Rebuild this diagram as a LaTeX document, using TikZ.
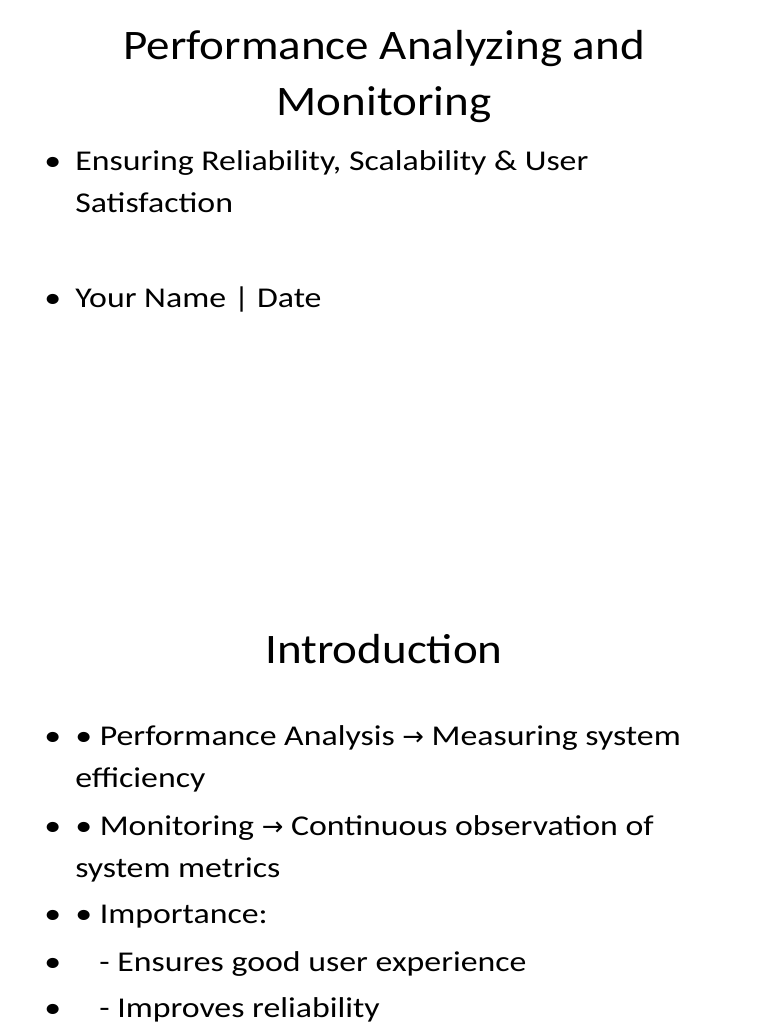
\documentclass[tikz,border=0pt]{standalone}
\usepackage{fontspec}
\setmainfont{Carlito}[FakeStretch=1.18]
\newfontfamily\titlefont{Carlito}[FakeStretch=1.12]
\newfontfamily\symfont{DejaVu Sans}
\newcommand{\arr}{{\symfont\scalebox{0.9}{→}}}

\begin{document}
\begin{tikzpicture}[x=0.75pt,y=-0.75pt]
		\tikzset{title/.style={font=\titlefont\fontsize{31.5}{31.5}\selectfont, anchor=base},
			item/.style={font=\fontsize{21.5}{21.5}\selectfont, anchor=base west, inner sep=0pt},
			dot/.style={font=\fontsize{21.5}{21.5}\selectfont, anchor=base west, inner sep=0pt}}
		\useasboundingbox (0,0) rectangle (768,1024);
		% first slide
		\node [title] (t1) at (384,60) {Performance Analyzing and};
		\node [title] (t2) at (384,115) {Monitoring};
		\node [dot] (b1) at (44,170) {•};
		\node [item] (e1) at (75,170) {Ensuring Reliability, Scalability \& User};
		\node [item] (e2) at (75,212) {Satisfaction};
		\node [dot] (b2) at (44,307) {•};
		\node [item] (e3) at (75,307) {Your Name | Date};
		% second slide
		\node [title] (t3) at (384,663) {Introduction};
		\foreach \y/\n in {745/1,835/2,923/3,971/4,1017/5}
			\node [dot] (d\n) at (44,\y) {•};
		\node [item] (i1) at (75,745) {• Performance Analysis \arr{} Measuring system};
		\node [item] (i2) at (75,787) {efficiency};
		\node [item] (i3) at (75,835) {• Monitoring \arr{} Continuous observation of};
		\node [item] (i4) at (75,877) {system metrics};
		\node [item] (i5) at (75,923) {• Importance:};
		\node [item] (i6) at (99,971) {- Ensures good user experience};
		\node [item] (i7) at (99,1017) {- Improves reliability};
	\end{tikzpicture}
\end{document}
